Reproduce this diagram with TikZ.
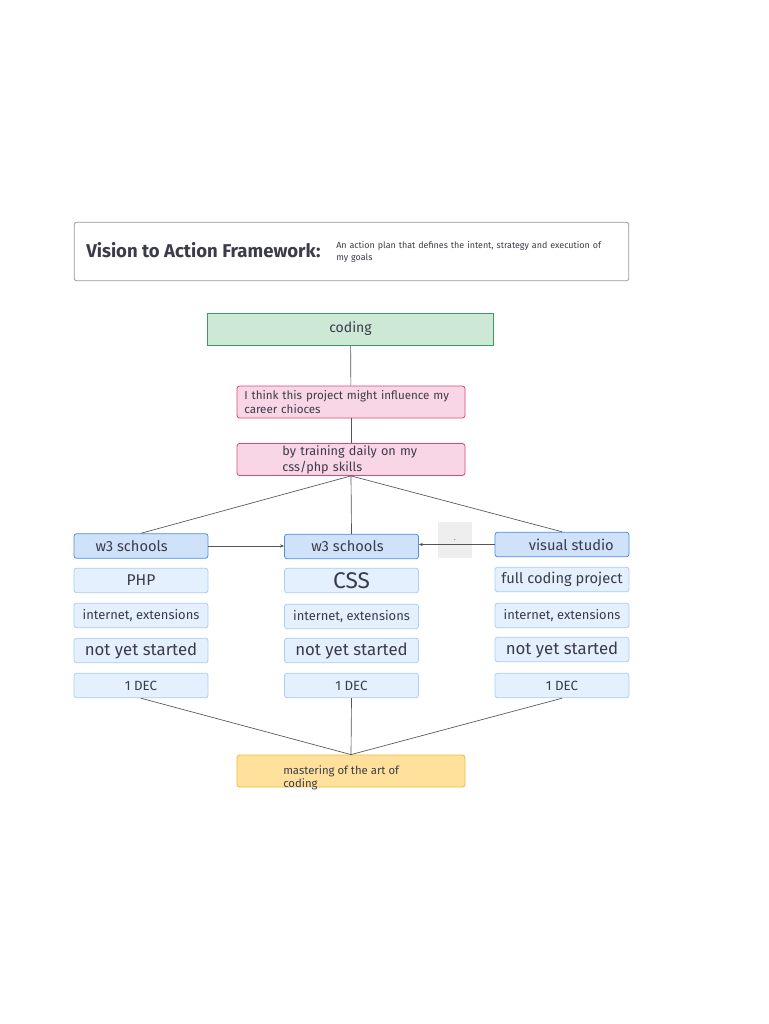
\documentclass[tikz,border=0pt]{standalone}
\usepackage{fontspec}
\setmainfont{Fira Sans}
\usepackage{xcolor}
\usepackage{tikz}
\usetikzlibrary{arrows.meta, positioning}
\definecolor{inkgray}{HTML}{3B3B4A}
\definecolor{linegray}{HTML}{555555}
\definecolor{codegreen}{HTML}{CDE9D6}
\definecolor{codegreenline}{HTML}{3A9A5F}
\definecolor{whypink}{HTML}{F9D6E5}
\definecolor{whypinkline}{HTML}{E2457B}
\definecolor{headblue}{HTML}{CFE2FA}
\definecolor{headblueline}{HTML}{4A90E2}
\definecolor{rowblue}{HTML}{E4F0FD}
\definecolor{rowblueline}{HTML}{AACFF6}
\definecolor{goalorange}{HTML}{FFE19C}
\definecolor{goalorangeline}{HTML}{F6BA3C}

\begin{document}
\begin{tikzpicture}[x=0.75pt, y=-0.75pt,
    every node/.style={text=inkgray},
    box/.style={draw, rounded corners=2pt, line width=0.6pt, inner sep=0pt},
    headbox/.style={box, fill=headblue, draw=headblueline, minimum width=100.5pt,
                    minimum height=18.5pt, font=\fontsize{11}{13}\selectfont},
    rowbox/.style={box, fill=rowblue, draw=rowblueline, minimum width=100.5pt,
                   minimum height=18.5pt},
    whybox/.style={box, fill=whypink, draw=whypinkline, minimum width=171pt,
                   minimum height=24pt},
    link/.style={draw=linegray, line width=0.5pt},
]
    \useasboundingbox[fill=white] (0,0) rectangle (768,1024);

    % header strip
    \node[box, draw=gray!80, fill=white, minimum width=416pt, minimum height=44pt]
        (frame) at (351.5,251.5) {};
    \node[anchor=west, inner sep=0pt, font=\fontsize{13.9}{16}\selectfont\bfseries]
        (frametitle) at (86,250) {Vision to Action Framework:};
    \node[anchor=west, inner sep=0pt, text width=215pt, align=left,
          font=\fontsize{6.7}{8.5}\selectfont]
        (framesub) at (336,252) {An action plan that defines the intent, strategy and execution of\\my goals};

    % intent / why
    \node[box, fill=codegreen, draw=codegreenline, rounded corners=0pt,
          minimum width=215pt, minimum height=24pt, font=\fontsize{10.5}{12}\selectfont]
        (coding) at (350.5,329) {coding};
    \node[whybox, align=left, text width=160pt, font=\fontsize{8.7}{10.5}\selectfont]
        (why) at (351,402) {I think this project might influence my\\career chioces};
    \node[whybox, align=left, text width=171pt, inner xsep=0pt, font=\fontsize{9.5}{12}\selectfont]
        (how) at (351,459.5) {\hspace*{34pt}by training daily on my\\\hspace*{34pt}css/php skills};

    % three columns
    \node[headbox] (leftsrc) at (141,546) {\hspace*{-14pt}w3 schools};
    \node[headbox] (midsrc) at (351.5,546.5) {\hspace*{-6pt}w3 schools};
    \node[headbox] (rightsrc) at (562,544.5) {\hspace*{14pt}visual studio};
    \node[fill=gray!13, minimum width=25pt, minimum height=27pt, inner sep=0pt,
          font=\tiny] (gap) at (455,540) {.};

    \node[rowbox, font=\fontsize{11.7}{13}\selectfont] (leftskill) at (141,580.5) {PHP};
    \node[rowbox, font=\fontsize{9.7}{11}\selectfont] (lefttool) at (141,615.5) {internet, extensions};
    \node[rowbox, font=\fontsize{12.6}{14}\selectfont] (leftstate) at (141,650.5) {not yet started};
    \node[rowbox, font=\fontsize{10}{11}\selectfont] (leftdate) at (141,685.5) {1 DEC};

    \node[rowbox, font=\fontsize{17}{19}\selectfont] (midskill) at (351.5,580.5) {CSS};
    \node[rowbox, font=\fontsize{9.7}{11}\selectfont] (midtool) at (351.5,616.5) {internet, extensions};
    \node[rowbox, font=\fontsize{12.6}{14}\selectfont] (midstate) at (351.5,650.5) {not yet started};
    \node[rowbox, font=\fontsize{10}{11}\selectfont] (middate) at (351.5,685.5) {1 DEC};

    \node[rowbox, font=\fontsize{11}{13}\selectfont] (rightskill) at (562,579.5) {full coding project};
    \node[rowbox, font=\fontsize{9.7}{11}\selectfont] (righttool) at (562,615.5) {internet, extensions};
    \node[rowbox, font=\fontsize{12.6}{14}\selectfont] (rightstate) at (562,649.5) {not yet started};
    \node[rowbox, font=\fontsize{10}{11}\selectfont] (rightdate) at (562,685.5) {1 DEC};

    % goal
    \node[box, fill=goalorange, draw=goalorangeline, minimum width=171pt, minimum height=24pt]
        (goal) at (351,771) {};
    \node[anchor=north west, inner sep=0pt, align=left, font=\fontsize{8.5}{10}\selectfont]
        (goaltext) at (283,765) {mastering of the art of\\coding};

    % connectors
    \draw[link] (coding) -- (why);
    \draw[link] (why) -- (how);
    \draw[link] (how.south) -- (leftsrc.north);
    \draw[link] (how.south) -- (midsrc.north);
    \draw[link] (how.south) -- (rightsrc.north);
    \draw[link, -{Stealth[length=3pt, width=2.5pt]}] (leftsrc) -- (midsrc.west |- leftsrc);
    \draw[link, -{Stealth[length=3pt, width=2.5pt]}] (rightsrc.west) -- (midsrc.east |- rightsrc.west);
    \draw[link] (leftdate.south) -- (goal.north);
    \draw[link] (middate.south) -- (goal.north);
    \draw[link] (rightdate.south) -- (goal.north);
\end{tikzpicture}
\end{document}
